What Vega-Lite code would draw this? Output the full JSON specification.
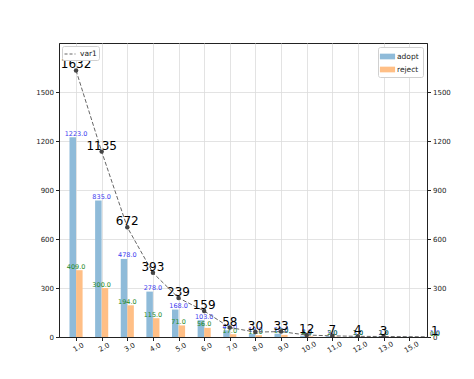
{
  "$schema": "https://vega.github.io/schema/vega-lite/v6.json",
  "width": 368,
  "height": 294,
  "autosize": {"type": "none"},
  "padding": {"left": 59, "top": 43, "right": 47, "bottom": 42},
  "background": "white",
  "data": {"values": [
    {"k": 1, "rank": 1, "adopt": 1223, "reject": 409, "var1": 1632},
    {"k": 2, "rank": 2, "adopt": 835, "reject": 300, "var1": 1135},
    {"k": 3, "rank": 3, "adopt": 478, "reject": 194, "var1": 672},
    {"k": 4, "rank": 4, "adopt": 278, "reject": 115, "var1": 393},
    {"k": 5, "rank": 5, "adopt": 168, "reject": 71, "var1": 239},
    {"k": 6, "rank": 6, "adopt": 103, "reject": 56, "var1": 159},
    {"k": 7, "rank": 7, "adopt": 41, "reject": 17, "var1": 58},
    {"k": 8, "rank": 8, "adopt": 19, "reject": 11, "var1": 30},
    {"k": 9, "rank": 9, "adopt": 20, "reject": 13, "var1": 33},
    {"k": 10, "rank": 10, "adopt": 8, "reject": 4, "var1": 12},
    {"k": 11, "rank": 11, "adopt": 5, "reject": 2, "var1": 7},
    {"k": 12, "rank": 12, "adopt": 3, "reject": 1, "var1": 4},
    {"k": 13, "rank": 13, "adopt": 2, "reject": 1, "var1": 3},
    {"k": 15, "rank": 14, "adopt": 1, "reject": 0, "var1": 1}
  ]},
  "layer": [
    {
      "layer": [
        {
          "mark": {"type": "bar", "width": 6.5, "xOffset": -3.3, "clip": true},
          "encoding": {
            "x": {"field": "rank", "type": "quantitative", "title": null,
                  "scale": {"domain": [0.53, 14.5], "nice": false, "zero": false},
                  "axis": {"values": [1,2,3,4,5,6,7,8,9,10,11,12,13,14],
                           "labelExpr": "datum.value == 14 ? '15.0' : format(datum.value, '.1f')",
                           "labelAngle": -30, "labelAlign": "center", "labelBaseline": "top",
                           "labelPadding": 3, "labelOverlap": false, "labelBound": false, "labelFlush": false,
                           "grid": true}},
            "y": {"field": "adopt", "type": "quantitative", "title": null,
                  "scale": {"domain": [0, 1800], "nice": false},
                  "axis": {"values": [0, 300, 600, 900, 1200, 1500], "format": "d", "grid": true}},
            "color": {"datum": "adopt", "type": "nominal",
                      "scale": {"domain": ["adopt", "reject"], "range": ["#8fbbd9", "#ffbf86"]},
                      "legend": {"orient": "top-right", "title": null, "offset": 4,
                                 "symbolType": "M-1.6,-0.6H1.6V0.6H-1.6Z", "symbolSize": 90,
                                 "labelFontSize": 7.5, "fillColor": "white", "strokeColor": "#d0d0d0",
                                 "padding": 4, "cornerRadius": 2, "rowPadding": 4}}
          }
        },
        {
          "mark": {"type": "bar", "width": 6.5, "xOffset": 3.3, "clip": true},
          "encoding": {
            "x": {"field": "rank", "type": "quantitative", "title": null,
                  "axis": {"values": [1,2,3,4,5,6,7,8,9,10,11,12,13,14],
                           "labelExpr": "datum.value == 14 ? '15.0' : format(datum.value, '.1f')",
                           "labelAngle": -30, "labelAlign": "center", "labelBaseline": "top",
                           "labelPadding": 3, "labelOverlap": false, "labelBound": false, "labelFlush": false,
                           "grid": true}},
            "y": {"field": "reject", "type": "quantitative", "title": null},
            "color": {"datum": "reject", "type": "nominal"}
          }
        },
        {
          "mark": {"type": "text", "baseline": "bottom", "fontSize": 6.5, "color": "#3c3cf0", "dy": -0.5},
          "encoding": {
            "x": {"field": "k", "type": "quantitative", "title": null,
                  "axis": {"values": [1,2,3,4,5,6,7,8,9,10,11,12,13,14],
                           "labelExpr": "datum.value == 14 ? '15.0' : format(datum.value, '.1f')",
                           "labelAngle": -30, "labelAlign": "center", "labelBaseline": "top",
                           "labelPadding": 3, "labelOverlap": false, "labelBound": false, "labelFlush": false,
                           "grid": true}},
            "y": {"field": "adopt", "type": "quantitative", "title": null},
            "text": {"field": "adopt", "type": "quantitative", "format": ".1f"}
          }
        },
        {
          "mark": {"type": "text", "baseline": "bottom", "fontSize": 6.5, "color": "#1f8a1f", "dy": -0.5},
          "encoding": {
            "x": {"field": "k", "type": "quantitative", "title": null,
                  "axis": {"values": [1,2,3,4,5,6,7,8,9,10,11,12,13,14],
                           "labelExpr": "datum.value == 14 ? '15.0' : format(datum.value, '.1f')",
                           "labelAngle": -30, "labelAlign": "center", "labelBaseline": "top",
                           "labelPadding": 3, "labelOverlap": false, "labelBound": false, "labelFlush": false,
                           "grid": true}},
            "y": {"field": "reject", "type": "quantitative", "title": null},
            "text": {"field": "reject", "type": "quantitative", "format": ".1f"}
          }
        }
      ]
    },
    {
      "layer": [
        {
          "mark": {"type": "line", "strokeDash": [4, 2], "strokeWidth": 1, "clip": true},
          "encoding": {
            "x": {"field": "k", "type": "quantitative", "title": null,
                  "axis": {"values": [1,2,3,4,5,6,7,8,9,10,11,12,13,14],
                           "labelExpr": "datum.value == 14 ? '15.0' : format(datum.value, '.1f')",
                           "labelAngle": -30, "labelAlign": "center", "labelBaseline": "top",
                           "labelPadding": 3, "labelOverlap": false, "labelBound": false, "labelFlush": false,
                           "grid": true}},
            "y": {"field": "var1", "type": "quantitative", "title": null,
                  "scale": {"domain": [0, 1800], "nice": false},
                  "axis": {"orient": "right", "values": [0, 300, 600, 900, 1200, 1500], "format": "d", "grid": false}},
            "stroke": {"datum": "var1", "type": "nominal",
                       "scale": {"range": ["#666666"]},
                       "legend": {"orient": "top-left", "title": null, "offset": 3,
                                  "symbolType": "stroke", "symbolDash": [3, 2], "symbolStrokeWidth": 1,
                                  "symbolSize": 120, "labelFontSize": 7.5, "fillColor": "white",
                                  "strokeColor": "#d0d0d0", "padding": 2, "cornerRadius": 2}}
          }
        },
        {
          "mark": {"type": "point", "filled": true, "size": 20, "color": "#444444", "opacity": 1, "clip": true},
          "encoding": {
            "x": {"field": "k", "type": "quantitative", "title": null,
                  "axis": {"values": [1,2,3,4,5,6,7,8,9,10,11,12,13,14],
                           "labelExpr": "datum.value == 14 ? '15.0' : format(datum.value, '.1f')",
                           "labelAngle": -30, "labelAlign": "center", "labelBaseline": "top",
                           "labelPadding": 3, "labelOverlap": false, "labelBound": false, "labelFlush": false,
                           "grid": true}},
            "y": {"field": "var1", "type": "quantitative", "title": null}
          }
        },
        {
          "mark": {"type": "text", "baseline": "bottom", "fontSize": 12, "color": "black", "dy": 1},
          "encoding": {
            "x": {"field": "k", "type": "quantitative", "title": null,
                  "axis": {"values": [1,2,3,4,5,6,7,8,9,10,11,12,13,14],
                           "labelExpr": "datum.value == 14 ? '15.0' : format(datum.value, '.1f')",
                           "labelAngle": -30, "labelAlign": "center", "labelBaseline": "top",
                           "labelPadding": 3, "labelOverlap": false, "labelBound": false, "labelFlush": false,
                           "grid": true}},
            "y": {"field": "var1", "type": "quantitative", "title": null},
            "text": {"field": "var1", "type": "quantitative", "format": "d"}
          }
        }
      ]
    }
  ],
  "resolve": {"scale": {"y": "independent"}},
  "config": {
    "font": "DejaVu Sans",
    "view": {"stroke": "#222222", "strokeWidth": 1},
    "axis": {"labelFontSize": 7, "labelColor": "#222222", "tickColor": "#222222",
             "domainColor": "#222222", "gridColor": "#dcdcdc", "gridWidth": 0.8,
             "tickSize": 3.5, "labelPadding": 2, "labelFont": "DejaVu Sans"},
    "axisX": {"labelOverlap": false, "labelBound": false, "labelFlush": false},
    "legend": {"labelFont": "DejaVu Sans", "labelColor": "#222222"}
  }
}
